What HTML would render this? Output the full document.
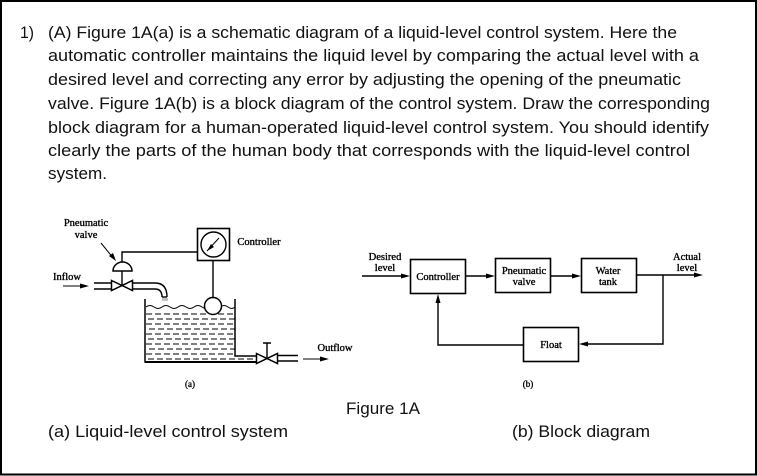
<!DOCTYPE html>
<html>
<head>
<meta charset="utf-8">
<style>
html,body{margin:0;padding:0;background:#fff;}
svg{display:block;}
.t{font-family:"Liberation Sans",sans-serif;font-size:17px;fill:#111;}
.s{font-family:"Liberation Serif",serif;font-size:10.5px;fill:#000;stroke:#000;stroke-width:0.35;text-anchor:middle;}
.l{fill:none;stroke:#000;stroke-width:1.4;}
.b{fill:#fff;stroke:#000;stroke-width:1.6;}
</style>
</head>
<body>
<svg width="757" height="476" viewBox="0 0 757 476" xmlns="http://www.w3.org/2000/svg">
<defs>
<filter id="bl" x="0" y="0" width="1" height="1"><feGaussianBlur stdDeviation="0.35"/></filter>
</defs>
<rect x="0" y="0" width="757" height="476" fill="#fff"/>
<rect x="1" y="1" width="755" height="473.5" fill="none" stroke="#000" stroke-width="2"/>

<text class="t" x="20" y="38" textLength="14" lengthAdjust="spacingAndGlyphs">1)</text>
<text class="t" x="48" y="38" textLength="629" lengthAdjust="spacingAndGlyphs">(A) Figure 1A(a) is a schematic diagram of a liquid-level control system. Here the</text>
<text class="t" x="48" y="61" textLength="651" lengthAdjust="spacingAndGlyphs">automatic controller maintains the liquid level by comparing the actual level with a</text>
<text class="t" x="48" y="85" textLength="633" lengthAdjust="spacingAndGlyphs">desired level and correcting any error by adjusting the opening of the pneumatic</text>
<text class="t" x="48" y="109" textLength="662" lengthAdjust="spacingAndGlyphs">valve. Figure 1A(b) is a block diagram of the control system. Draw the corresponding</text>
<text class="t" x="48" y="133" textLength="661" lengthAdjust="spacingAndGlyphs">block diagram for a human-operated liquid-level control system. You should identify</text>
<text class="t" x="48" y="156" textLength="642" lengthAdjust="spacingAndGlyphs">clearly the parts of the human body that corresponds with the liquid-level control</text>
<text class="t" x="48" y="179" textLength="59" lengthAdjust="spacingAndGlyphs">system.</text>

<text class="t" x="346" y="414" textLength="74" lengthAdjust="spacingAndGlyphs">Figure 1A</text>
<text class="t" x="48" y="437" textLength="240" lengthAdjust="spacingAndGlyphs">(a)  Liquid-level control system</text>
<text class="t" x="512" y="437" textLength="138" lengthAdjust="spacingAndGlyphs">(b) Block diagram</text>

<g filter="url(#bl)">
<!-- Diagram (a) -->
<text class="s" x="86" y="226">Pneumatic</text>
<text class="s" x="86" y="238">valve</text>
<text class="s" x="259" y="245">Controller</text>
<text class="s" x="67" y="280">Inflow</text>
<text class="s" x="335" y="351">Outflow</text>
<text class="s" x="190" y="387" style="font-size:9px">(a)</text>

<rect x="197.5" y="228.5" width="32" height="32" class="b"/>
<circle cx="213.500" cy="244.500" r="12.500" fill="#fff" stroke="#000" stroke-width="1.400"/>
<path d="M207 251 L219 238" stroke="#000" stroke-width="1"/>
<path d="M207 251 L211 244 L214 247 Z" fill="#000"/>
<path d="M197 252 H122 V262" class="l"/>
<path d="M213 261 V298" class="l"/>
<path d="M101 243 L114 259" class="l" style="stroke-width:1"/>
<path d="M116 261 L109 256 L113 253 Z" fill="#000"/>
<path d="M113 271 A9.500 9 0 0 1 132 271 Z" fill="#fff" stroke="#000" stroke-width="1.500"/>
<path d="M122 271 V285" class="l"/>
<path d="M111.500 280.500 L132.500 290.500 V280.500 L111.500 290.500 Z" fill="#fff" stroke="#000" stroke-width="1.500"/>
<path d="M94 283 H111 M94 289 H111" class="l"/>
<path d="M133 283 H155 Q167 283 167 297 M133 289 H155 Q162 289 162 297" class="l"/>
<path d="M162 297 h5" class="l"/>
<path d="M163 298 v3 M165 298 v3 M167 298 v3" stroke="#333" stroke-width="0.600"/>
<path d="M63 286 H82" class="l" style="stroke-width:1"/>
<path d="M89 286 L80 283.500 V288.500 Z" fill="#000"/>

<!-- tank -->
<path d="M145 299 V362 H256 M235 299 V356 H256" class="l" style="stroke-width:1.500"/>
<path d="M145 362 H256" stroke="#000" stroke-width="2"/>
<path d="M146 307 q4 -3 8 0 t8 0 t8 0 t8 0 t8 0 t8 0 t8 0 t9 0 M220 307 q4 -3 8 0 t7 0" class="l" style="stroke-width:1"/>
<g stroke="#000" stroke-width="1" stroke-dasharray="6 3">
<line x1="146" y1="314" x2="235" y2="314"/>
<line x1="148" y1="319" x2="235" y2="319"/>
<line x1="146" y1="324" x2="235" y2="324"/>
<line x1="149" y1="329" x2="235" y2="329"/>
<line x1="146" y1="334" x2="235" y2="334"/>
<line x1="148" y1="339" x2="235" y2="339"/>
<line x1="146" y1="344" x2="235" y2="344"/>
<line x1="149" y1="349" x2="235" y2="349"/>
<line x1="146" y1="354" x2="235" y2="354"/>
<line x1="148" y1="359" x2="254" y2="359"/>
</g>
<circle cx="213" cy="306" r="8.500" fill="#fff" stroke="#000" stroke-width="1.500"/>

<!-- outflow -->
<path d="M256.500 353.500 L277.500 363.500 V353.500 L256.500 363.500 Z" fill="#fff" stroke="#000" stroke-width="1.500"/>
<path d="M267 358 V343 M263 343 H271" class="l"/>
<path d="M278 355.500 H298 M278 361 H298" class="l"/>
<path d="M303 359 H322" class="l" style="stroke-width:1"/>
<path d="M329 359 L320 356.500 V361.500 Z" fill="#000"/>

<!-- Diagram (b) -->
<rect x="410.500" y="259.500" width="55" height="34" class="b"/>
<rect x="495.500" y="258.500" width="55" height="34" class="b"/>
<rect x="581.500" y="258.500" width="55" height="34" class="b"/>
<rect x="523.500" y="327.500" width="55" height="34" class="b"/>

<text class="s" x="438" y="280">Controller</text>
<text class="s" x="524" y="274">Pneumatic</text>
<text class="s" x="524" y="285">valve</text>
<text class="s" x="608" y="274">Water</text>
<text class="s" x="608" y="285">tank</text>
<text class="s" x="551" y="348">Float</text>
<text class="s" x="385" y="260">Desired</text>
<text class="s" x="385" y="271">level</text>
<text class="s" x="687" y="260">Actual</text>
<text class="s" x="687" y="271">level</text>
<text class="s" x="528" y="387" style="font-size:9px">(b)</text>

<path d="M362 276 H404" class="l"/>
<path d="M410 276 L401 273.500 V278.500 Z" fill="#000"/>
<path d="M466 276 H489" class="l"/>
<path d="M495 276 L486 273.500 V278.500 Z" fill="#000"/>
<path d="M551 276 H575" class="l"/>
<path d="M581 276 L572 273.500 V278.500 Z" fill="#000"/>
<path d="M637 275 H696" class="l"/>
<path d="M703 275 L694 272.500 V277.500 Z" fill="#000"/>
<path d="M663 275 V344 H585" class="l"/>
<path d="M579 344 L588 341.500 V346.500 Z" fill="#000"/>
<path d="M523 345 H438 V300" class="l"/>
<path d="M438 294 L435.500 303 H440.500 Z" fill="#000"/>
</g>
</svg>
</body>
</html>
